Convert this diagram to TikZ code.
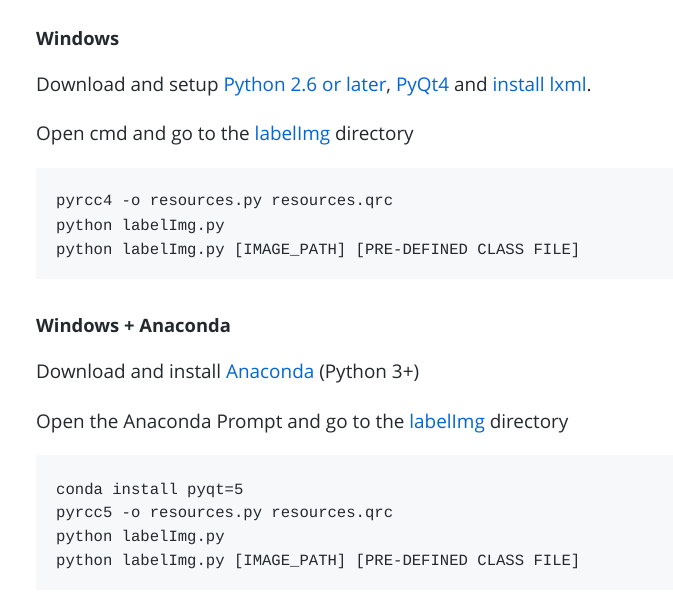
\documentclass[tikz,border=0pt]{standalone}
\usepackage{fontspec}
\setmainfont{Open Sans}
\setmonofont{Liberation Mono}
\definecolor{txt}{HTML}{24292E}
\definecolor{lnk}{HTML}{0366D6}
\definecolor{codebg}{HTML}{F6F8FA}
\newcommand{\lk}[1]{\textcolor{lnk}{#1}}
\begin{document}
\begin{tikzpicture}[x=1pt,y=-1pt,
  body/.style={anchor=west,inner sep=0pt,text=txt,font=\fontsize{18.9}{22}\selectfont},
  head/.style={anchor=west,inner sep=0pt,text=txt,font=\fontsize{18.4}{22}\selectfont\bfseries},
  code/.style={anchor=west,inner sep=0pt,text=txt,font=\fontsize{15.6}{18}\ttfamily}]
\useasboundingbox[fill=white] (0,0) rectangle (673,612);
\fill[codebg] (36,168) rectangle (673,279);
\fill[codebg] (36,455) rectangle (673,590);
\node[head] (h1) at (36,39) {Windows};
\node[body] (p1) at (36,87) {Download and setup \lk{Python 2.6 or later}, \lk{PyQt4} and \lk{install lxml}.};
\node[body] (p2) at (36,136) {Open cmd and go to the \lk{labelImg} directory};
\node[code] (c1) at (56,202) {pyrcc4 -o resources.py resources.qrc};
\node[code] (c2) at (56,226) {python labelImg.py};
\node[code] (c3) at (56,250) {python labelImg.py [IMAGE\_PATH] [PRE-DEFINED CLASS FILE]};
\node[head] (h2) at (36,326) {Windows + Anaconda};
\node[body] (p3) at (36,374) {Download and install \lk{Anaconda} (Python 3+)};
\node[body] (p4) at (36,424) {Open the Anaconda Prompt and go to the \lk{labelImg} directory};
\node[code] (d1) at (56,490) {conda install pyqt=5};
\node[code] (d2) at (56,514) {pyrcc5 -o resources.py resources.qrc};
\node[code] (d3) at (56,537) {python labelImg.py};
\node[code] (d4) at (56,561) {python labelImg.py [IMAGE\_PATH] [PRE-DEFINED CLASS FILE]};
\end{tikzpicture}
\end{document}
